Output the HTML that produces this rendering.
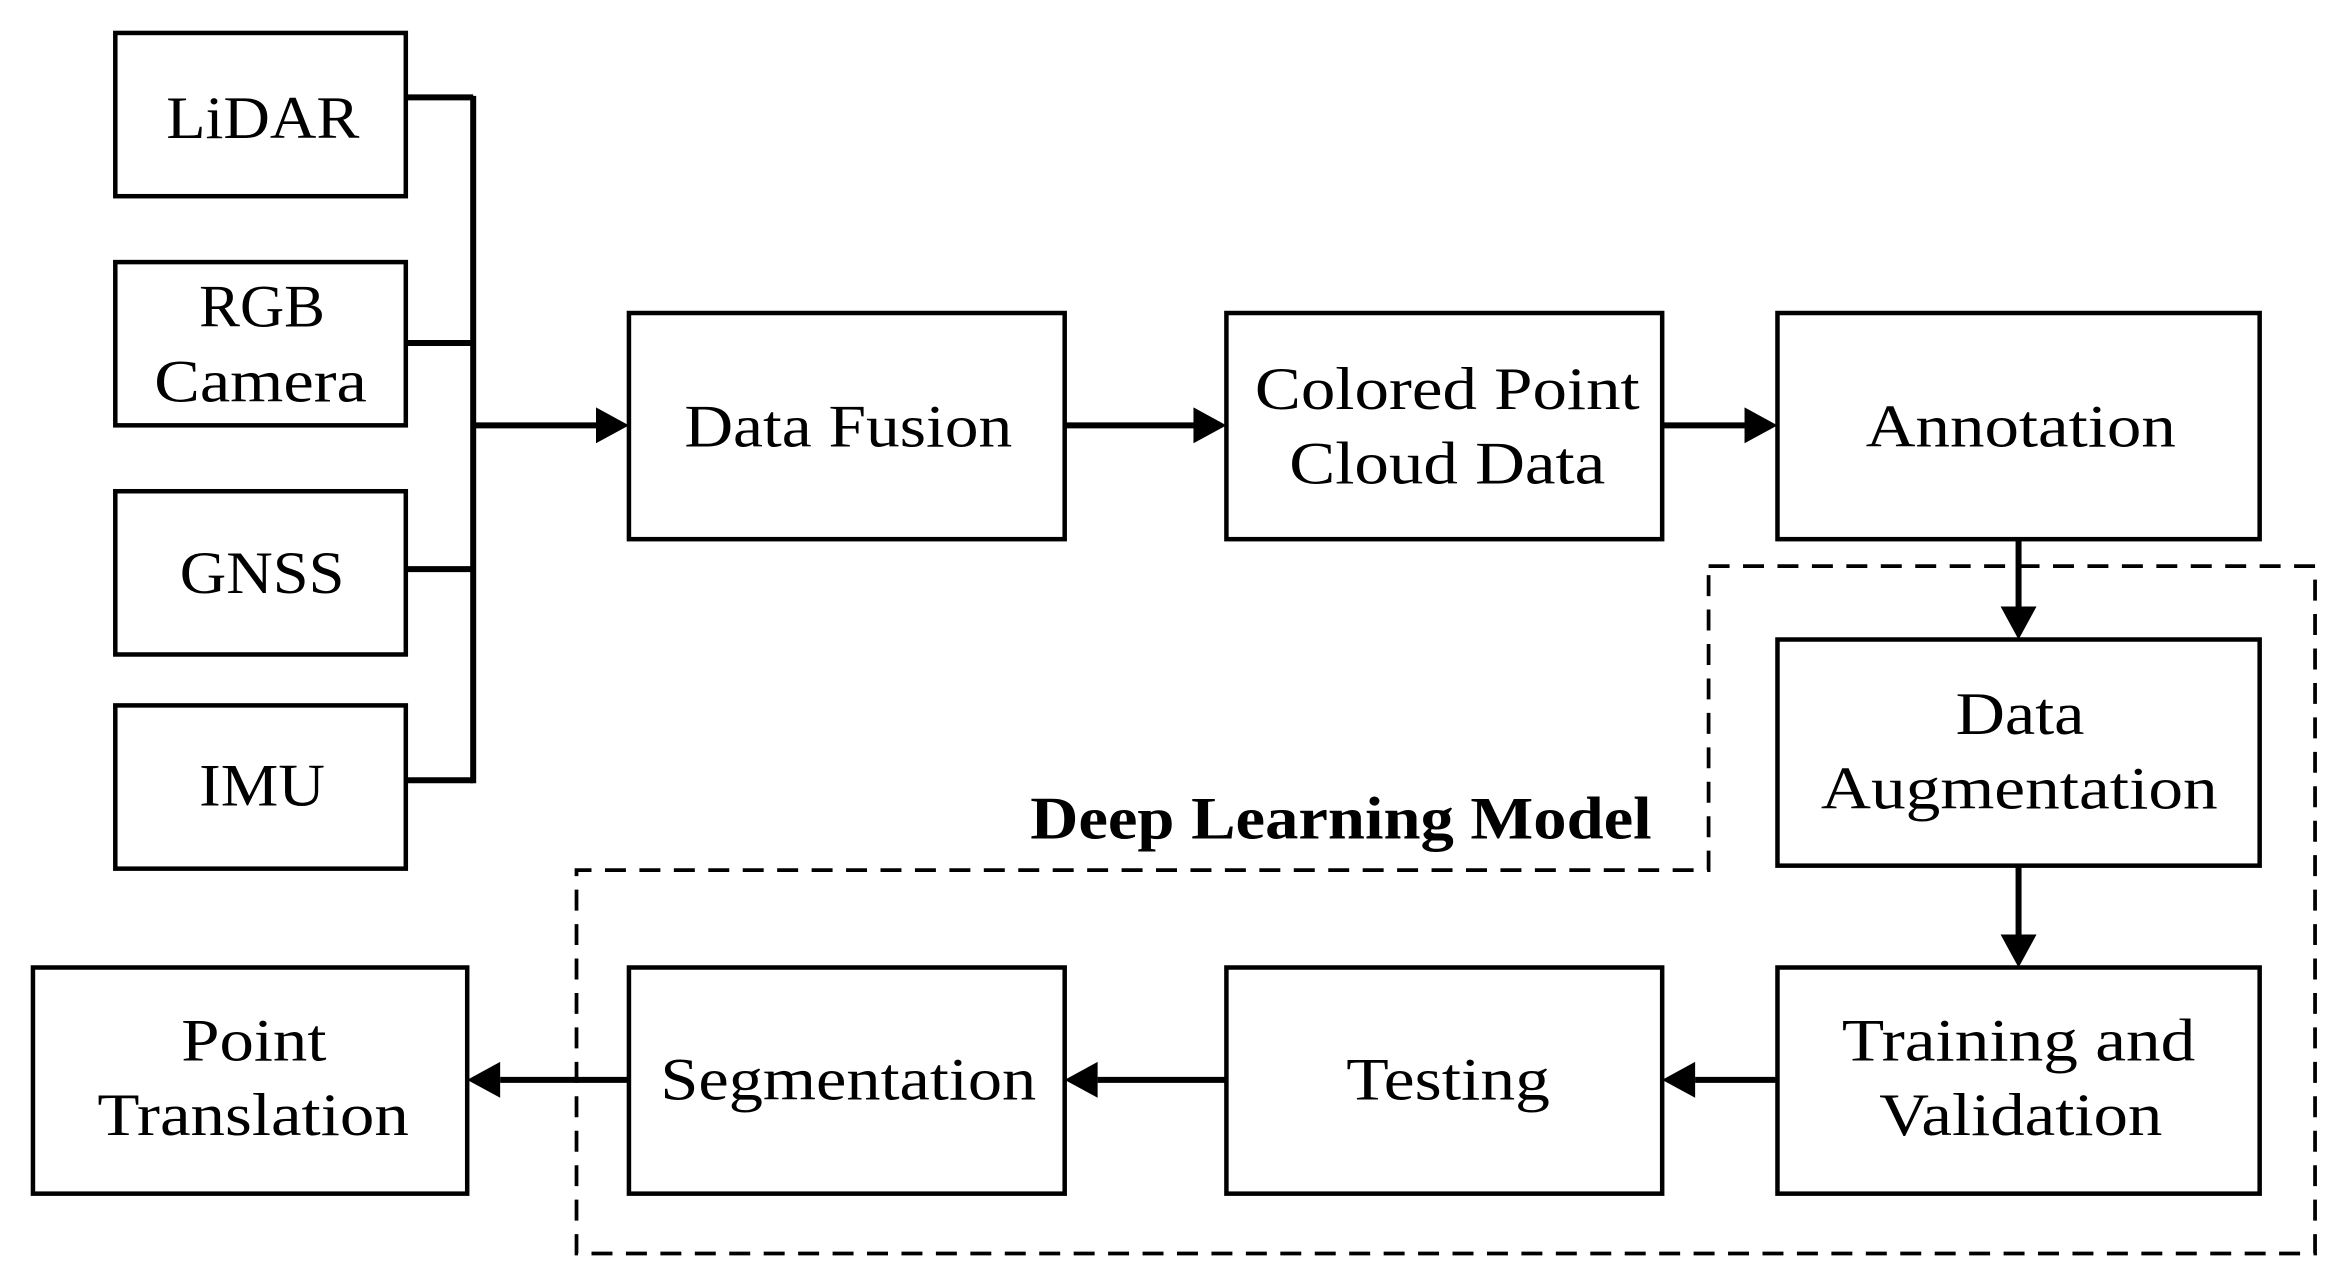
<!DOCTYPE html>
<html><head><meta charset="utf-8"><style>html,body{margin:0;padding:0;background:#fff}svg{display:block}</style></head>
<body>
<svg width="2348" height="1288" viewBox="0 0 1568 860" preserveAspectRatio="none" xmlns="http://www.w3.org/2000/svg">
<g fill="none" stroke="#000" stroke-width="3">
<rect x="77" y="22" width="194" height="109"/>
<rect x="77" y="175" width="194" height="109"/>
<rect x="77" y="328" width="194" height="109"/>
<rect x="77" y="471" width="194" height="109"/>
<rect x="420" y="209" width="291" height="151"/>
<rect x="819" y="209" width="291" height="151"/>
<rect x="1187" y="209" width="322" height="151"/>
<rect x="1187" y="427" width="322" height="151"/>
<rect x="1187" y="646" width="322" height="151"/>
<rect x="819" y="646" width="291" height="151"/>
<rect x="420" y="646" width="291" height="151"/>
<rect x="22" y="646" width="290" height="151"/>
<path d="M1141 378 H1546 V837 H385 V581 H1141 Z" stroke-width="2.5" stroke-dasharray="14 9"/>
</g>
<g fill="none" stroke="#000" stroke-width="4">
<path d="M316 64 V523"/>
<path d="M271 65 H316 M271 229 H316 M271 380 H316 M271 521 H316"/>
<path d="M316 284 H400 M711 284 H798 M1110 284 H1166"/>
<path d="M1348 360 V406 M1348 578 V625"/>
<path d="M1187 721 H1132 M819 721 H733 M420 721 H334"/>
</g>
<g fill="#000">
<polygon points="420,284 398,272 398,296"/>
<polygon points="819,284 797,272 797,296"/>
<polygon points="1187,284 1165,272 1165,296"/>
<polygon points="1348,427 1336,405 1360,405"/>
<polygon points="1348,646 1336,624 1360,624"/>
<polygon points="1110,721 1132,709 1132,733"/>
<polygon points="711,721 733,709 733,733"/>
<polygon points="312,721 334,709 334,733"/>
</g>
<g font-family="'Liberation Serif', serif" font-size="40" fill="#000" lengthAdjust="spacingAndGlyphs">
<text x="111" y="92" textLength="129" lengthAdjust="spacingAndGlyphs">LiDAR</text>
<text x="133" y="218" textLength="84" lengthAdjust="spacingAndGlyphs">RGB</text>
<text x="103" y="268" textLength="142" lengthAdjust="spacingAndGlyphs">Camera</text>
<text x="120" y="396" textLength="110" lengthAdjust="spacingAndGlyphs">GNSS</text>
<text x="133" y="538" textLength="84" lengthAdjust="spacingAndGlyphs">IMU</text>
<text x="457" y="298" textLength="219" lengthAdjust="spacingAndGlyphs">Data Fusion</text>
<text x="838" y="273" textLength="257" lengthAdjust="spacingAndGlyphs">Colored Point</text>
<text x="861" y="323" textLength="211" lengthAdjust="spacingAndGlyphs">Cloud Data</text>
<text x="1246" y="298" textLength="207" lengthAdjust="spacingAndGlyphs">Annotation</text>
<text x="1306" y="490" textLength="86" lengthAdjust="spacingAndGlyphs">Data</text>
<text x="1216" y="540" textLength="265" lengthAdjust="spacingAndGlyphs">Augmentation</text>
<text x="1230" y="708" textLength="236" lengthAdjust="spacingAndGlyphs">Training and</text>
<text x="1255" y="758" textLength="189" lengthAdjust="spacingAndGlyphs">Validation</text>
<text x="899" y="734" textLength="136" lengthAdjust="spacingAndGlyphs">Testing</text>
<text x="441" y="734" textLength="251" lengthAdjust="spacingAndGlyphs">Segmentation</text>
<text x="121" y="708" textLength="97" lengthAdjust="spacingAndGlyphs">Point</text>
<text x="65" y="758" textLength="208" lengthAdjust="spacingAndGlyphs">Translation</text>
<text x="688" y="560" font-weight="bold" textLength="415" lengthAdjust="spacingAndGlyphs">Deep Learning Model</text>
</g>
</svg>
</body></html>
